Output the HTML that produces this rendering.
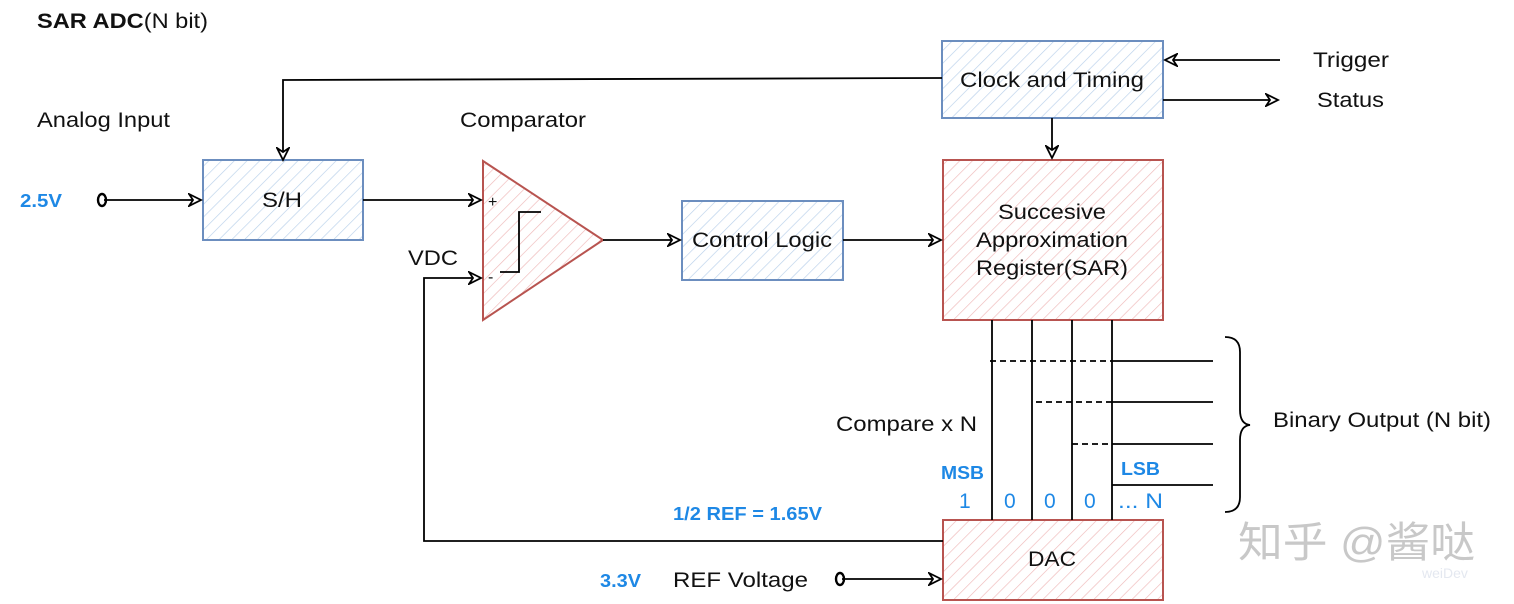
<!DOCTYPE html>
<html><head><meta charset="utf-8"><style>
html,body{margin:0;padding:0;background:#fff;}
svg{display:block;}
text{font-family:"Liberation Sans","Noto Sans CJK SC",sans-serif;}
</style></head><body>
<svg width="1514" height="604" viewBox="0 0 1514 604" xmlns="http://www.w3.org/2000/svg">
<defs>
<pattern id="hb" patternUnits="userSpaceOnUse" width="9" height="9" patternTransform="rotate(45)">
<line x1="0" y1="0" x2="0" y2="9" stroke="#b8d0ea" stroke-width="1.3"/></pattern>
<pattern id="hr" patternUnits="userSpaceOnUse" width="9" height="9" patternTransform="rotate(45)">
<line x1="0" y1="0" x2="0" y2="9" stroke="#efb8b8" stroke-width="1.3"/></pattern>
<marker id="ar" markerWidth="16" markerHeight="14" refX="13" refY="7" orient="auto" markerUnits="userSpaceOnUse">
<path d="M1,1 L13,7 L1,13 L5,7 Z" fill="#fff" stroke="#000" stroke-width="1.8"/></marker>
</defs>
<g fill="none" stroke="#000" stroke-width="1.8">
<rect x="942" y="41" width="221" height="77" fill="url(#hb)" stroke="#6c8ebf" stroke-width="2"/>
<rect x="203" y="160" width="160" height="80" fill="url(#hb)" stroke="#6c8ebf" stroke-width="2"/>
<rect x="682" y="201" width="161" height="79" fill="url(#hb)" stroke="#6c8ebf" stroke-width="2"/>
<rect x="943" y="160" width="220" height="160" fill="url(#hr)" stroke="#b85450" stroke-width="2"/>
<rect x="943" y="520" width="220" height="80" fill="url(#hr)" stroke="#b85450" stroke-width="2"/>
<polygon points="483,161 603,240 483,320" fill="url(#hr)" stroke="#b85450" stroke-width="2"/>
<polyline points="500,272 519,272 519,212 541,212"/>
<polyline points="942,78 283,80 283,160" marker-end="url(#ar)"/>
<line x1="1052" y1="118" x2="1052" y2="158" marker-end="url(#ar)"/>
<line x1="1280" y1="60" x2="1165" y2="60" marker-end="url(#ar)"/>
<line x1="1163" y1="100" x2="1278" y2="100" marker-end="url(#ar)"/>
<line x1="104" y1="200" x2="201" y2="200" marker-end="url(#ar)"/>
<line x1="363" y1="200" x2="481" y2="200" marker-end="url(#ar)"/>
<line x1="603" y1="240" x2="680" y2="240" marker-end="url(#ar)"/>
<line x1="843" y1="240" x2="941" y2="240" marker-end="url(#ar)"/>
<polyline points="943,541 424,541 424,278 481,278" marker-end="url(#ar)"/>
<line x1="842" y1="579" x2="941" y2="579" marker-end="url(#ar)"/>
<ellipse cx="102" cy="200" rx="4" ry="6" stroke-width="2.4"/>
<ellipse cx="840" cy="579" rx="4" ry="6" stroke-width="2.4"/>
<line x1="992" y1="320" x2="992" y2="520"/>
<line x1="1032" y1="320" x2="1032" y2="520"/>
<line x1="1072" y1="320" x2="1072" y2="520"/>
<line x1="1112" y1="320" x2="1112" y2="520"/>
<line x1="990" y1="361" x2="1112" y2="361" stroke-dasharray="6,4"/>
<line x1="1036" y1="402" x2="1112" y2="402" stroke-dasharray="6,4"/>
<line x1="1072" y1="444" x2="1112" y2="444" stroke-dasharray="6,4"/>
<line x1="1112" y1="361" x2="1213" y2="361"/>
<line x1="1112" y1="402" x2="1213" y2="402"/>
<line x1="1112" y1="444" x2="1213" y2="444"/>
<line x1="1112" y1="485" x2="1213" y2="485"/>
<path d="M1225,337 Q1240,337 1240,352 L1240,410 Q1240,424 1250,425 Q1240,426 1240,440 L1240,497 Q1240,512 1225,512"/>
</g>
<g font-size="21" fill="#111" lengthAdjust="spacingAndGlyphs">
<text x="37" y="28" font-weight="bold" textLength="171" lengthAdjust="spacingAndGlyphs">SAR ADC<tspan font-weight="normal">(N bit)</tspan></text>
<text x="37" y="127" textLength="133" lengthAdjust="spacingAndGlyphs">Analog Input</text>
<text x="460" y="127" textLength="126" lengthAdjust="spacingAndGlyphs">Comparator</text>
<text x="408" y="265" textLength="50" lengthAdjust="spacingAndGlyphs">VDC</text>
<text x="488" y="207" font-size="16">+</text>
<text x="488" y="282" font-size="16">-</text>
<text x="262" y="207" textLength="40" lengthAdjust="spacingAndGlyphs">S/H</text>
<text x="692" y="247" textLength="140" lengthAdjust="spacingAndGlyphs">Control Logic</text>
<text x="960" y="87" textLength="184" lengthAdjust="spacingAndGlyphs">Clock and Timing</text>
<text x="998" y="219" textLength="108" lengthAdjust="spacingAndGlyphs">Succesive</text>
<text x="976" y="247" textLength="152" lengthAdjust="spacingAndGlyphs">Approximation</text>
<text x="976" y="275" textLength="152" lengthAdjust="spacingAndGlyphs">Register(SAR)</text>
<text x="1028" y="566" textLength="48" lengthAdjust="spacingAndGlyphs">DAC</text>
<text x="1313" y="67" textLength="76" lengthAdjust="spacingAndGlyphs">Trigger</text>
<text x="1317" y="107" textLength="67" lengthAdjust="spacingAndGlyphs">Status</text>
<text x="836" y="431" textLength="141" lengthAdjust="spacingAndGlyphs">Compare x N</text>
<text x="1273" y="427" textLength="218" lengthAdjust="spacingAndGlyphs">Binary Output (N bit)</text>
<text x="673" y="587" textLength="135" lengthAdjust="spacingAndGlyphs">REF Voltage</text>
</g>
<g fill="#1e88e5" font-size="19">
<text x="20" y="207" font-weight="bold" font-size="18" textLength="42" lengthAdjust="spacingAndGlyphs">2.5V</text>
<text x="600" y="587" font-weight="bold" font-size="18" textLength="41" lengthAdjust="spacingAndGlyphs">3.3V</text>
<text x="673" y="520" font-weight="bold" font-size="18" textLength="149" lengthAdjust="spacingAndGlyphs">1/2 REF = 1.65V</text>
<text x="941" y="479" font-weight="bold" font-size="18" textLength="43" lengthAdjust="spacingAndGlyphs">MSB</text>
<text x="1121" y="475" font-weight="bold" font-size="18" textLength="39" lengthAdjust="spacingAndGlyphs">LSB</text>
<text x="959" y="508" font-size="21">1</text>
<text x="1004" y="508" font-size="21">0</text>
<text x="1044" y="508" font-size="21">0</text>
<text x="1084" y="508" font-size="21">0</text>
<text x="1118" y="508" font-size="21" textLength="45" lengthAdjust="spacingAndGlyphs">... N</text>
</g>
<text x="1238" y="557" font-size="42" fill="#c8c8c8" textLength="237" lengthAdjust="spacingAndGlyphs">知乎 @酱哒</text>
<text x="1422" y="578" font-size="14" fill="#e4e8f0">weiDev</text>
</svg>
</body></html>
